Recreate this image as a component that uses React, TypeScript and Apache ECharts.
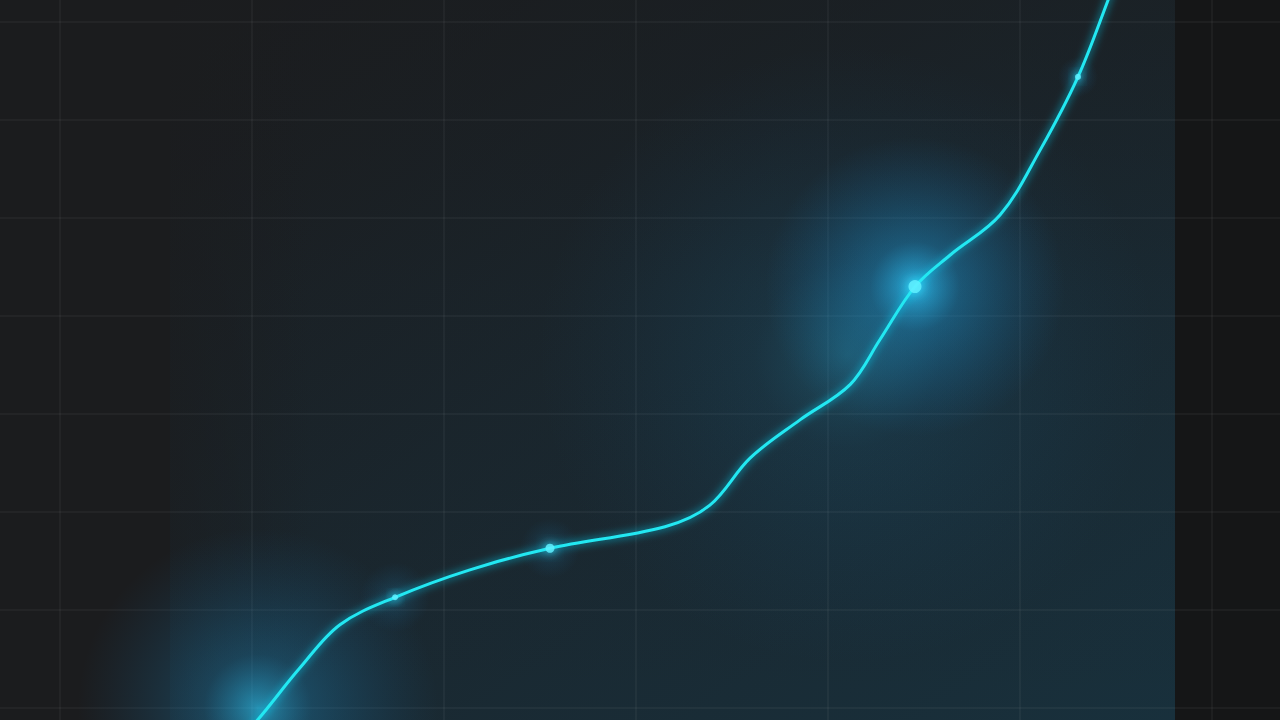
import React, { useEffect, useRef } from "react";
import * as echarts from "echarts";

// Line path (x in grid columns from the first vertical line, y in grid rows from the lowest horizontal line)
const lineX = [0.885, 1.03, 1.25, 1.458, 1.745, 2.135, 2.552, 3.151, 3.385, 3.594, 3.854, 4.115, 4.271, 4.453, 4.635, 4.896, 5.104, 5.302, 5.458, 5.495];
const lineY = [-0.43, -0.12, 0.41, 0.85, 1.13, 1.41, 1.63, 1.85, 2.07, 2.55, 2.94, 3.3, 3.76, 4.3, 4.62, 5.03, 5.69, 6.44, 7.22, 7.43];

// Highlighted points on the line
const dotX = [1.745, 2.552, 4.453, 5.302];
const dotY = [1.13, 1.63, 4.3, 6.44];
const dotSize = [6, 9, 13, 6];

// Soft glows
const glowX = [1.03, 4.453, 4.1, 1.745, 2.552, 5.302];
const glowY = [0.0, 4.3, 3.6, 1.13, 1.63, 6.44];
const glowSize = [360, 300, 620, 70, 60, 40];
const glowAlpha = [0.62, 0.85, 0.24, 0.35, 0.35, 0.4];

// Grid lines (extend over the whole page)
const gridXs = [0, 1, 2, 3, 4, 5, 6];
const gridYs = [0, 1, 2, 3, 4, 5, 6, 7];

const gridStroke = "rgba(255,255,255,0.055)";

export default function App() {
  const ref = useRef<HTMLDivElement>(null);
  useEffect(() => {
    if (!ref.current) return;
    const chart = echarts.init(ref.current, null, { renderer: "svg" });
    const lineData = lineX.map((x, i) => [x, lineY[i]]);
    const dots = dotX.map((x, i) => ({ value: [x, dotY[i]], symbolSize: dotSize[i] }));
    const glows = glowX.map((x, i) => ({
      value: [x, glowY[i]],
      symbolSize: glowSize[i],
      itemStyle: {
        color: {
          type: "radial", x: 0.5, y: 0.5, r: 0.5,
          colorStops: [
            { offset: 0, color: `rgba(45,205,255,${glowAlpha[i]})` },
            { offset: 0.3, color: `rgba(30,150,210,${glowAlpha[i] * 0.45})` },
            { offset: 1, color: "rgba(20,110,170,0)" },
          ],
        },
      },
    }));
    chart.setOption({
      animation: false,
      backgroundColor: "#1b1c1e",
      graphic: {
        elements: [
          {
            type: "rect", z: -10, silent: true,
            shape: { x: 170, y: 0, width: 1005, height: 720 },
            style: {
              fill: {
                type: "linear", x: 0, y: 0, x2: 1, y2: 1,
                colorStops: [
                  { offset: 0, color: "rgba(20,90,130,0)" },
                  { offset: 0.45, color: "rgba(20,100,140,0.14)" },
                  { offset: 1, color: "rgba(18,95,130,0.3)" },
                ],
              },
            },
          },
          {
            type: "rect", z: -9, silent: true,
            shape: { x: 170, y: 0, width: 1005, height: 720 },
            style: {
              fill: {
                type: "linear", x: 0, y: 0, x2: 0, y2: 1,
                colorStops: [
                  { offset: 0, color: "rgba(27,28,30,0.5)" },
                  { offset: 0.4, color: "rgba(27,28,30,0.1)" },
                  { offset: 1, color: "rgba(27,28,30,0)" },
                ],
              },
            },
          },
          {
            type: "rect", z: -9, silent: true,
            shape: { x: 170, y: 0, width: 140, height: 720 },
            style: {
              fill: {
                type: "linear", x: 0, y: 0, x2: 1, y2: 0,
                colorStops: [
                  { offset: 0, color: "rgba(27,28,30,0.6)" },
                  { offset: 1, color: "rgba(27,28,30,0)" },
                ],
              },
            },
          },
          {
            type: "rect", z: -8, silent: true,
            shape: { x: 1175, y: 0, width: 105, height: 720 },
            style: { fill: "#151617" },
          },
        ],
      },
      grid: { left: 60, right: 68, top: 22, bottom: 12 },
      xAxis: {
        type: "value", min: 0, max: 6, interval: 1,
        axisLine: { show: false }, axisTick: { show: false }, axisLabel: { show: false },
        splitLine: { show: false },
      },
      yAxis: {
        type: "value", min: 0, max: 7, interval: 1,
        axisLine: { show: false }, axisTick: { show: false }, axisLabel: { show: false },
        splitLine: { show: false },
      },
      series: [
        {
          type: "custom", z: 0, clip: false, silent: true,
          data: gridXs.map((x) => [x, 0]),
          renderItem: (params: any, api: any) => {
            const a = api.coord([api.value(0), -1]);
            const b = api.coord([api.value(0), 8]);
            return { type: "line", shape: { x1: a[0], y1: a[1], x2: b[0], y2: b[1] }, style: { stroke: gridStroke, lineWidth: 1.5 } };
          },
        },
        {
          type: "custom", z: 0, clip: false, silent: true,
          data: gridYs.map((y) => [0, y]),
          renderItem: (params: any, api: any) => {
            const a = api.coord([-1, api.value(1)]);
            const b = api.coord([7, api.value(1)]);
            return { type: "line", shape: { x1: a[0], y1: a[1], x2: b[0], y2: b[1] }, style: { stroke: gridStroke, lineWidth: 1.5 } };
          },
        },
        {
          type: "scatter", data: glows, silent: true, z: 1, clip: false,
          itemStyle: { opacity: 1 },
        },
        {
          type: "line", data: lineData, smooth: 0.35, showSymbol: false, z: 3, clip: false,
          lineStyle: { color: "#22e8f2", width: 3, shadowBlur: 8, shadowColor: "rgba(0,220,255,0.9)" },
        },
        {
          type: "scatter", data: dots, z: 4, clip: false,
          itemStyle: { color: "#5ff0ff", shadowBlur: 12, shadowColor: "rgba(60,230,255,1)", opacity: 0.85 },
        },
      ],
    });
    return () => chart.dispose();
  }, []);
  return <div ref={ref} style={{ position: "fixed", left: 0, top: 0, width: 1280, height: 720 }} />;
}
